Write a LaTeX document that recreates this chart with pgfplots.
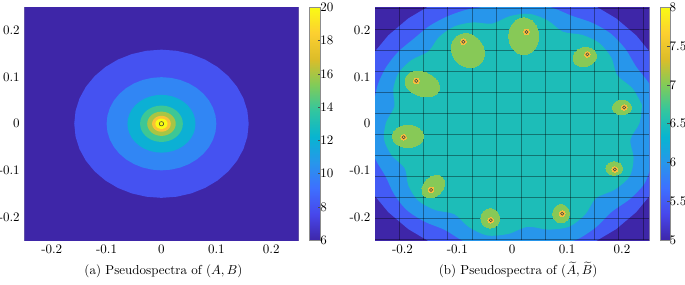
\documentclass[border=0pt]{standalone}
\usepackage{pgfplots}
\pgfplotsset{compat=1.18}
\usepackage{pgfplotstable}
\usepgfplotslibrary{polar}

\definecolor{L0}{rgb}{0.2422,0.1504,0.6603}
\definecolor{L1}{rgb}{0.270,0.323,0.944}
\definecolor{L2}{rgb}{0.193,0.524,0.955}
\definecolor{L3}{rgb}{0.048,0.691,0.831}
\definecolor{L4}{rgb}{0.238,0.779,0.586}
\definecolor{L5}{rgb}{0.658,0.774,0.267}
\definecolor{L6}{rgb}{0.985,0.765,0.205}
\definecolor{L7}{rgb}{0.9769,0.9839,0.0805}
\definecolor{R0}{rgb}{0.2422,0.1504,0.6603}
\definecolor{R1}{rgb}{0.262,0.357,0.960}
\definecolor{R2}{rgb}{0.154,0.590,0.922}
\definecolor{R3}{rgb}{0.112,0.742,0.721}
\definecolor{R4}{rgb}{0.530,0.790,0.340}
\definecolor{R5}{rgb}{0.975,0.745,0.235}

\pgfplotsset{
  colormap={parula}{rgb=(0.2422,0.1504,0.6603) rgb=(0.2803,0.2782,0.9221) rgb=(0.2440,0.4358,0.9988) rgb=(0.1540,0.5902,0.9218) rgb=(0.0297,0.7082,0.8163) rgb=(0.1938,0.7758,0.6251) rgb=(0.5044,0.7993,0.3480) rgb=(0.8634,0.7406,0.1596) rgb=(0.9892,0.8136,0.1885) rgb=(0.9769,0.9839,0.0805)},
  myax/.style={
    scale only axis, width=211pt, height=179.2pt, anchor=north west,
    xmin=-0.25, xmax=0.25, ymin=-0.25, ymax=0.25,
    xtick={-0.2,-0.1,0,0.1,0.2}, ytick={-0.2,-0.1,0,0.1,0.2},
    xticklabels={-0.2,-0.1,0,0.1,0.2}, yticklabels={-0.2,-0.1,0,0.1,0.2},
    major tick length=0pt,
    tick label style={font=\fontsize{10}{12}\selectfont},
    axis line style={black!35, line width=0.4pt},
    colormap name=parula, colorbar,
    colorbar style={scale only axis, height=179.2pt, anchor=north west,
      tick label style={font=\fontsize{10}{12}\selectfont},
      yticklabel style={inner sep=0.9pt, xshift=-1.2pt},
      ytick pos=right, yticklabel pos=right,
      major tick length=2pt, tick align=inside,
      ytick style={black!70, line width=0.4pt},
      axis line style={black!45, line width=0.4pt}},
  },
  gridl/.style={black, opacity=0.38, line width=0.45pt, forget plot},
  blob/.style={only marks, mark=*, mark size=1pt, color=R4},
}

\begin{document}
\pgfplotstableread[row sep=\\]{
a R r1 r2 r3 r4 r5 r6 r7\\
0 0.295 0.159 0.100 0.062 0.039 0.026 0.017 0.011\\
10 0.295 0.159 0.100 0.062 0.039 0.026 0.017 0.011\\
20 0.295 0.159 0.100 0.062 0.039 0.026 0.017 0.011\\
30 0.295 0.159 0.100 0.062 0.039 0.026 0.017 0.011\\
40 0.295 0.159 0.100 0.062 0.039 0.026 0.017 0.011\\
50 0.295 0.159 0.100 0.062 0.039 0.026 0.017 0.011\\
60 0.295 0.159 0.100 0.062 0.039 0.026 0.017 0.011\\
70 0.295 0.159 0.100 0.062 0.039 0.026 0.017 0.011\\
80 0.295 0.159 0.100 0.062 0.039 0.026 0.017 0.011\\
90 0.295 0.159 0.100 0.062 0.039 0.026 0.017 0.011\\
100 0.295 0.159 0.100 0.062 0.039 0.026 0.017 0.011\\
110 0.295 0.159 0.100 0.062 0.039 0.026 0.017 0.011\\
120 0.295 0.159 0.100 0.062 0.039 0.026 0.017 0.011\\
130 0.295 0.159 0.100 0.062 0.039 0.026 0.017 0.011\\
140 0.295 0.159 0.100 0.062 0.039 0.026 0.017 0.011\\
150 0.295 0.159 0.100 0.062 0.039 0.026 0.017 0.011\\
160 0.295 0.159 0.100 0.062 0.039 0.026 0.017 0.011\\
170 0.295 0.159 0.100 0.062 0.039 0.026 0.017 0.011\\
180 0.295 0.159 0.100 0.062 0.039 0.026 0.017 0.011\\
190 0.295 0.159 0.100 0.062 0.039 0.026 0.017 0.011\\
200 0.295 0.159 0.100 0.062 0.039 0.026 0.017 0.011\\
210 0.295 0.159 0.100 0.062 0.039 0.026 0.017 0.011\\
220 0.295 0.159 0.100 0.062 0.039 0.026 0.017 0.011\\
230 0.295 0.159 0.100 0.062 0.039 0.026 0.017 0.011\\
240 0.295 0.159 0.100 0.062 0.039 0.026 0.017 0.011\\
250 0.295 0.159 0.100 0.062 0.039 0.026 0.017 0.011\\
260 0.295 0.159 0.100 0.062 0.039 0.026 0.017 0.011\\
270 0.295 0.159 0.100 0.062 0.039 0.026 0.017 0.011\\
280 0.295 0.159 0.100 0.062 0.039 0.026 0.017 0.011\\
290 0.295 0.159 0.100 0.062 0.039 0.026 0.017 0.011\\
300 0.295 0.159 0.100 0.062 0.039 0.026 0.017 0.011\\
310 0.295 0.159 0.100 0.062 0.039 0.026 0.017 0.011\\
320 0.295 0.159 0.100 0.062 0.039 0.026 0.017 0.011\\
330 0.295 0.159 0.100 0.062 0.039 0.026 0.017 0.011\\
340 0.295 0.159 0.100 0.062 0.039 0.026 0.017 0.011\\
350 0.295 0.159 0.100 0.062 0.039 0.026 0.017 0.011\\
360 0.295 0.159 0.100 0.062 0.039 0.026 0.017 0.011\\
}\circtab
\pgfplotstableread[row sep=\\]{
a r6 r65\\
9.7 0.269 0.240\\
19.1 0.264 0.232\\
28.55 0.257 0.218\\
38.0 0.2615 0.2295\\
47.4 0.264 0.235\\
56.2 0.261 0.2295\\
64.95 0.256 0.218\\
73.7 0.2595 0.231\\
82.5 0.261 0.238\\
91.1 0.2595 0.231\\
99.65 0.256 0.218\\
108.2 0.2585 0.229\\
116.8 0.259 0.234\\
125.7 0.2585 0.229\\
134.55 0.256 0.218\\
143.4 0.259 0.229\\
152.3 0.260 0.234\\
161.3 0.259 0.229\\
170.3 0.256 0.218\\
179.3 0.260 0.230\\
188.3 0.262 0.236\\
197.2 0.2605 0.230\\
206.05 0.257 0.218\\
214.9 0.263 0.231\\
223.8 0.267 0.238\\
232.7 0.264 0.2325\\
241.55 0.259 0.221\\
250.4 0.267 0.2355\\
259.3 0.273 0.244\\
268.3 0.2685 0.2365\\
277.25 0.262 0.223\\
286.2 0.2695 0.2365\\
295.2 0.275 0.244\\
304.5 0.2695 0.2355\\
313.75 0.262 0.221\\
323.0 0.2685 0.2345\\
332.3 0.273 0.242\\
341.7 0.267 0.233\\
351.0 0.259 0.218\\
360.35 0.265 0.232\\
369.7 0.269 0.240\\
}\rtab
\pgfplotstableread[row sep=\\]{
x y\\
0.026 0.197\\
-0.089 0.176\\
0.137 0.149\\
-0.175 0.092\\
0.204 0.035\\
-0.198 -0.029\\
0.187 -0.098\\
-0.148 -0.142\\
0.091 -0.193\\
-0.039 -0.207\\
}\eigtab
\begin{tikzpicture}
% ---------------- left
\begin{axis}[myax, at={(18.7pt,212.9pt)},
  point meta min=6, point meta max=20,
  colorbar style={at={([xshift=4.6pt]parent axis.north east)}, width=8.2pt,
    ytick={6,8,10,12,14,16,18,20}, yticklabels={6,8,10,12,14,16,18,20}}]
\addplot[fill=L0, draw=none] coordinates {(-0.3,-0.3) (0.3,-0.3) (0.3,0.3) (-0.3,0.3)} -- cycle;
\addplot[fill=L1, draw=none, data cs=polar] table[x=a, y=r1] {\circtab} -- cycle;
\addplot[fill=L2, draw=none, data cs=polar] table[x=a, y=r2] {\circtab} -- cycle;
\addplot[fill=L3, draw=none, data cs=polar] table[x=a, y=r3] {\circtab} -- cycle;
\addplot[fill=L4, draw=none, data cs=polar] table[x=a, y=r4] {\circtab} -- cycle;
\addplot[fill=L5, draw=none, data cs=polar] table[x=a, y=r5] {\circtab} -- cycle;
\addplot[fill=L6, draw=none, data cs=polar] table[x=a, y=r6] {\circtab} -- cycle;
\addplot[fill=L7, draw=none, data cs=polar] table[x=a, y=r7] {\circtab} -- cycle;
\addplot[only marks, mark=o, mark size=1.7pt, color=black!80, mark options={line width=0.4pt}] coordinates {(0,0)};
\end{axis}
% ---------------- right
\begin{axis}[myax, at={(288.5pt,212.9pt)},
  point meta min=5, point meta max=8,
  colorbar style={at={([xshift=2.6pt]parent axis.north east)}, width=7.2pt,
    ytick={5,5.5,6,6.5,7,7.5,8}, yticklabels={5,5.5,6,6.5,7,7.5,8}}]
\addplot[fill=R0, draw=none] coordinates {(-0.3,-0.3) (0.3,-0.3) (0.3,0.3) (-0.3,0.3)} -- cycle;
\addplot[fill=R1, draw=none, data cs=polar] table[x=a, y=R] {\circtab} -- cycle;
\addplot[fill=R2, draw=none, data cs=polar, smooth] table[x=a, y=r6] {\rtab} -- cycle;
\addplot[fill=R3, draw=none, data cs=polar, smooth] table[x=a, y=r65] {\rtab} -- cycle;
% level-7 regions around the eigenvalues
\addplot[blob, mark options={line width=0pt, xscale=11.5, yscale=14.1}] coordinates {(0.021,0.188)};
\addplot[blob, mark options={line width=0pt, rotate=130, xscale=13.8, yscale=11.9}] coordinates {(-0.081,0.157)};
\addplot[blob, mark options={line width=0pt, rotate=15, xscale=9.2, yscale=7.3}] coordinates {(0.132,0.143)};
\addplot[blob, mark options={line width=0pt, rotate=-20, xscale=13.8, yscale=9.2}] coordinates {(-0.164,0.085)};
\addplot[blob, mark options={line width=0pt, xscale=7.3, yscale=5.6}] coordinates {(0.200,0.035)};
\addplot[blob, mark options={line width=0pt, xscale=12.1, yscale=8.6}] coordinates {(-0.190,-0.027)};
\addplot[blob, mark options={line width=0pt, xscale=6.4, yscale=5.2}] coordinates {(0.186,-0.096)};
\addplot[blob, mark options={line width=0pt, rotate=45, xscale=10, yscale=7.3}] coordinates {(-0.144,-0.135)};
\addplot[blob, mark options={line width=0pt, xscale=6.4, yscale=7.1}] coordinates {(0.089,-0.193)};
\addplot[blob, mark options={line width=0pt, xscale=7.2, yscale=7.5}] coordinates {(-0.040,-0.203)};
% grid lines
\pgfplotsinvokeforeach{-0.2067,-0.1622,-0.1176,-0.0731,-0.0285,0.0160,0.0605,0.1051,0.1496,0.1942,0.2387}{
  \addplot[gridl] coordinates {(#1,-0.25) (#1,0.25)};
}
\pgfplotsinvokeforeach{-0.2470,-0.2021,-0.1572,-0.1123,-0.0674,-0.0225,0.0225,0.0674,0.1123,0.1572,0.2021,0.2470}{
  \addplot[gridl] coordinates {(-0.25,#1) (0.25,#1)};
}
% level-7.5 dots and eigenvalues
\addplot[only marks, mark=*, mark size=2.2pt, color=R5, mark options={line width=0pt}] table[x=x, y=y] {\eigtab};
\addplot[only marks, mark=o, mark size=1.2pt, color=black!75, mark options={line width=0.4pt}] table[x=x, y=y] {\eigtab};
\end{axis}
\node[anchor=base, font=\fontsize{10}{12}\selectfont] at (125.7pt,7.2pt) {(a) Pseudospectra of $(A,B)$};
\node[anchor=base, font=\fontsize{10}{12}\selectfont] at (398.5pt,7.2pt) {(b) Pseudospectra of $(\widetilde{A},\widetilde{B})$};
\pgfresetboundingbox
\path[use as bounding box] (0,0) rectangle (526.9pt,218.5pt);
\end{tikzpicture}
\end{document}
